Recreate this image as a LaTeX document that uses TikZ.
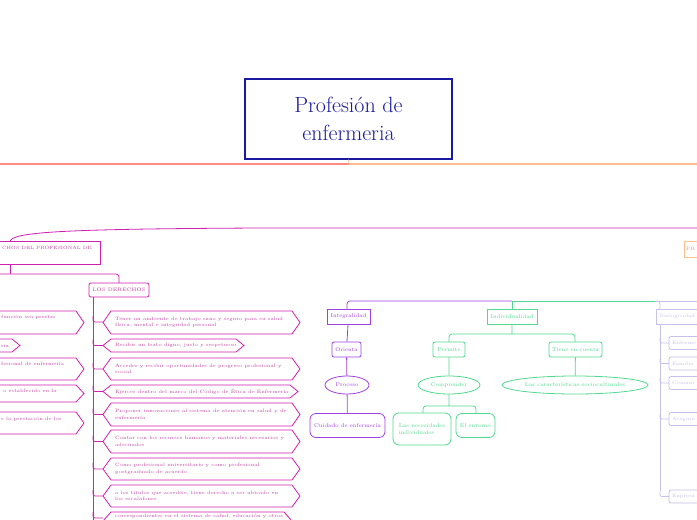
\documentclass[tikz,border=0pt]{standalone}
\usetikzlibrary{shapes.geometric,shapes.misc}
\definecolor{ttl}{HTML}{1A1AA0}
\definecolor{mag}{HTML}{D020B0}
\definecolor{magt}{HTML}{C040A0}
\definecolor{pur}{HTML}{A040E0}
\definecolor{grn}{HTML}{50D890}
\definecolor{lav}{HTML}{C8C0E8}
\definecolor{sal}{HTML}{FF8A80}
\definecolor{pch}{HTML}{FFC090}
\tikzset{
 t/.style={font=\fontsize{4.8}{6.5}\selectfont,inner sep=0pt},
 hexa/.style={draw=mag,line width=0.8pt},
 bx/.style={draw,rounded corners=2pt,line width=0.8pt,font=\fontsize{5.5}{6.5}\selectfont,inner sep=2pt},
 ln/.style={line width=0.8pt,rounded corners=3pt},
 tp/.style={draw,rounded corners=6pt,line width=0.8pt,inner sep=1pt,font=\fontsize{5.5}{6.5}\selectfont}
}
\newcommand{\hexr}[5]{% x1 x2 y1 y2 text
 \draw[hexa] (#1+8,#3)--(#2-8,#3)--(#2,{(#3+#4)/2})--(#2-8,#4)--(#1+8,#4)--(#1,{(#3+#4)/2})--cycle;
 \node[t,magt,align=left,anchor=west] at (#1+12,{(#3+#4)/2}) {#5};}
\begin{document}
\begin{tikzpicture}[x=1pt,y=-1pt]
\useasboundingbox (0,0) rectangle (697,520);
\clip (0,0) rectangle (697,520);
\fill[white] (0,0) rectangle (697,520);
% title
\node[draw=ttl,line width=1.2pt,minimum width=207pt,minimum height=80pt,align=center,text=ttl,font=\fontsize{22}{28}\selectfont] (title) at (348.5,119) {Profesión de\\enfermeria};
\draw[sal,line width=1.3pt] (0,164)--(349,164);
\draw[pch,line width=1.3pt] (349,164)--(697,164);
\draw[pch,line width=0.8pt] (title.south)--(349,164);
% magenta top connector
\draw[mag,line width=0.8pt] (10,242) .. controls (10,232) and (60,229) .. (260,228)--(697,228);
\node[draw=mag,line width=0.8pt,minimum height=23pt,minimum width=160pt,anchor=east] (der) at (101,252.5) {};
\node[t,magt,anchor=west,font=\fontsize{4.6}{6}\selectfont] (dert) at (2,248) {CHOS DEL PROFESIONAL DE};
\draw[mag,ln] (10,264)--(10,274);
\draw[mag,ln] (0,274)--(119,274)--(119,283);
\node[bx,draw=mag,text=magt,minimum width=60pt,minimum height=14pt,font=\fontsize{5}{6}\selectfont] (losd) at (119,290) {LOS DERECHOS};
\draw[mag,line width=0.8pt] (93,297)--(93,520);
\foreach \y in {322,345.5,369,391.5,414.5,441.5,469,496,518}{\draw[mag,line width=0.8pt,rounded corners=2pt] (93,\y-6)--(93,\y)--(103,\y);}
\hexr{103}{300}{311}{334}{Tener un ambiente de trabajo sano y seguro para su salud\\física, mental e integridad personal}
\hexr{103}{244}{339}{352}{Recibir un trato digno, justo y respetuoso}
\hexr{103}{300}{358}{380}{Acceder y recibir oportunidades de progreso profesional y\\social}
\hexr{103}{298}{385}{398}{Ejercer dentro del marco del Código de Ética de Enfermería}
\hexr{103}{300}{403}{426}{Proponer innovaciones al sistema de atención en salud y de\\enfermería}
\hexr{103}{300}{430}{453}{Contar con los recursos humanos y materiales necesarios y\\adecuados}
\hexr{103}{300}{458}{480}{Como profesional universitario y como profesional\\postgraduado de acuerdo}
\hexr{103}{300}{485}{507}{a  los  títulos  que  acredite,  tiene  derecho  a ser ubicado  en\\los  escalafones}
\hexr{103}{292}{512}{530}{}
\node[t,magt,anchor=west] at (115,516) {correspondientes en el sistema de salud, educación y otros};
% left clipped column
\draw[hexa] (-100,311)--(76,311)--(84,322.5)--(76,334)--(-100,334);
\node[t,magt,anchor=west] at (1,317) {función  sea prestar};
\draw[hexa] (-100,339)--(12,339)--(20,345.5)--(12,352)--(-100,352);
\node[t,magt,anchor=west] at (1,345.5) {ria};
\draw[hexa] (-100,358)--(76,358)--(84,369)--(76,380)--(-100,380);
\node[t,magt,anchor=west] at (1,364) {fesional de  enfermería};
\draw[hexa] (-100,385)--(76,385)--(84,393.5)--(76,402)--(-100,402);
\node[t,magt,anchor=west] at (3,391) {o  establecido  en la};
\draw[hexa] (-100,412)--(76,412)--(84,423)--(76,434)--(-100,434);
\node[t,magt,anchor=west] at (1,419) {r la prestación de los};
% top tree line
\draw[pur,ln] (347,309)--(347,301)--(512,301);
\draw[grn,line width=0.8pt] (512,301)--(655,301);
\draw[lav,ln] (655,301)--(697,301);
\draw[grn,line width=0.8pt] (512,301)--(512,309);
\draw[lav,ln] (655,301)--(660,301)--(660,309);
% purple
\node[bx,draw=pur,text=pur,rounded corners=0pt,minimum width=43pt,minimum height=15pt] (integ) at (348.5,316.5) {Integralidad};
\node[bx,draw=pur,text=pur,minimum width=29pt,minimum height=15pt] (orienta) at (346.5,349.5) {Orienta};
\node[ellipse,draw=pur,line width=0.8pt,text=pur,minimum width=44pt,minimum height=18pt,inner sep=0pt,font=\fontsize{5.5}{6.5}\selectfont] (proceso) at (347,385) {Proceso};
\node[tp,draw=pur,text=pur,minimum width=75pt,minimum height=24pt] (cuid) at (347.5,425.5) {Cuidado  de  enfermería};
\draw[pur,line width=0.8pt] (integ)--(orienta) (orienta)--(proceso) (proceso)--(cuid);
% green
\node[bx,draw=grn,text=grn,rounded corners=0pt,minimum width=50pt,minimum height=15pt] (indiv) at (512,316.5) {Individualidad};
\node[bx,draw=grn,text=grn,minimum width=32pt,minimum height=15pt] (permite) at (449,349.5) {Permite};
\node[bx,draw=grn,text=grn,minimum width=53pt,minimum height=15pt] (tiene) at (575.5,349.5) {Tiene  en cuenta};
\draw[grn,ln] (indiv.south)--(512,334) (449,342)--(449,334)--(575,334)--(575,342);
\node[ellipse,draw=grn,line width=0.8pt,text=grn,minimum width=62pt,minimum height=18pt,inner sep=0pt,font=\fontsize{5.5}{6.5}\selectfont] (comp) at (449,385) {Comprender};
\node[ellipse,draw=grn,line width=0.8pt,text=grn,minimum width=146pt,minimum height=18pt,inner sep=0pt,font=\fontsize{5.5}{6.5}\selectfont] (soc) at (575,385) {Las características socioculturales};
\draw[grn,line width=0.8pt] (permite)--(comp) (tiene)--(soc);
\node[tp,draw=grn,text=grn,minimum width=58pt,minimum height=32pt,align=left] (nec) at (422,429) {Las  necesidades\\individuales};
\node[tp,draw=grn,text=grn,minimum width=39pt,minimum height=24pt] (ent) at (475.5,425.5) {El entorno};
\draw[grn,ln] (comp.south)--(449,406) (423,413)--(423,406)--(476,406)--(476,413);
% lavender
\node[draw=lav,line width=0.8pt,minimum width=48pt,minimum height=15pt,anchor=west] (dial) at (656,316.5) {};
\node[t,lav,anchor=west] at (659,316.5) {Dialogicidad};
\draw[lav,line width=0.8pt] (660,324)--(660,491);
\foreach \y/\s [count=\i] in {343/Enferme,363.5/Familia,383/Comuni,419/Asegura,496.5/Expresa}{
 \draw[lav,line width=0.8pt,rounded corners=2pt] (660,\y-5)--(660,\y)--(669,\y);
 \draw[lav,line width=0.8pt,rounded corners=2pt] (700,\y-6.5)--(669,\y-6.5)--(669,\y+6.5)--(700,\y+6.5);
 \node[t,lav,anchor=west] (l\i) at (672,\y) {\s};}
% right PR box
\node[draw=pch,line width=0.8pt,anchor=west,minimum height=16pt,minimum width=20pt] (pr) at (684,249) {};
\node[t,sal,anchor=west] at (686,249) {PR};
\end{tikzpicture}
\end{document}
